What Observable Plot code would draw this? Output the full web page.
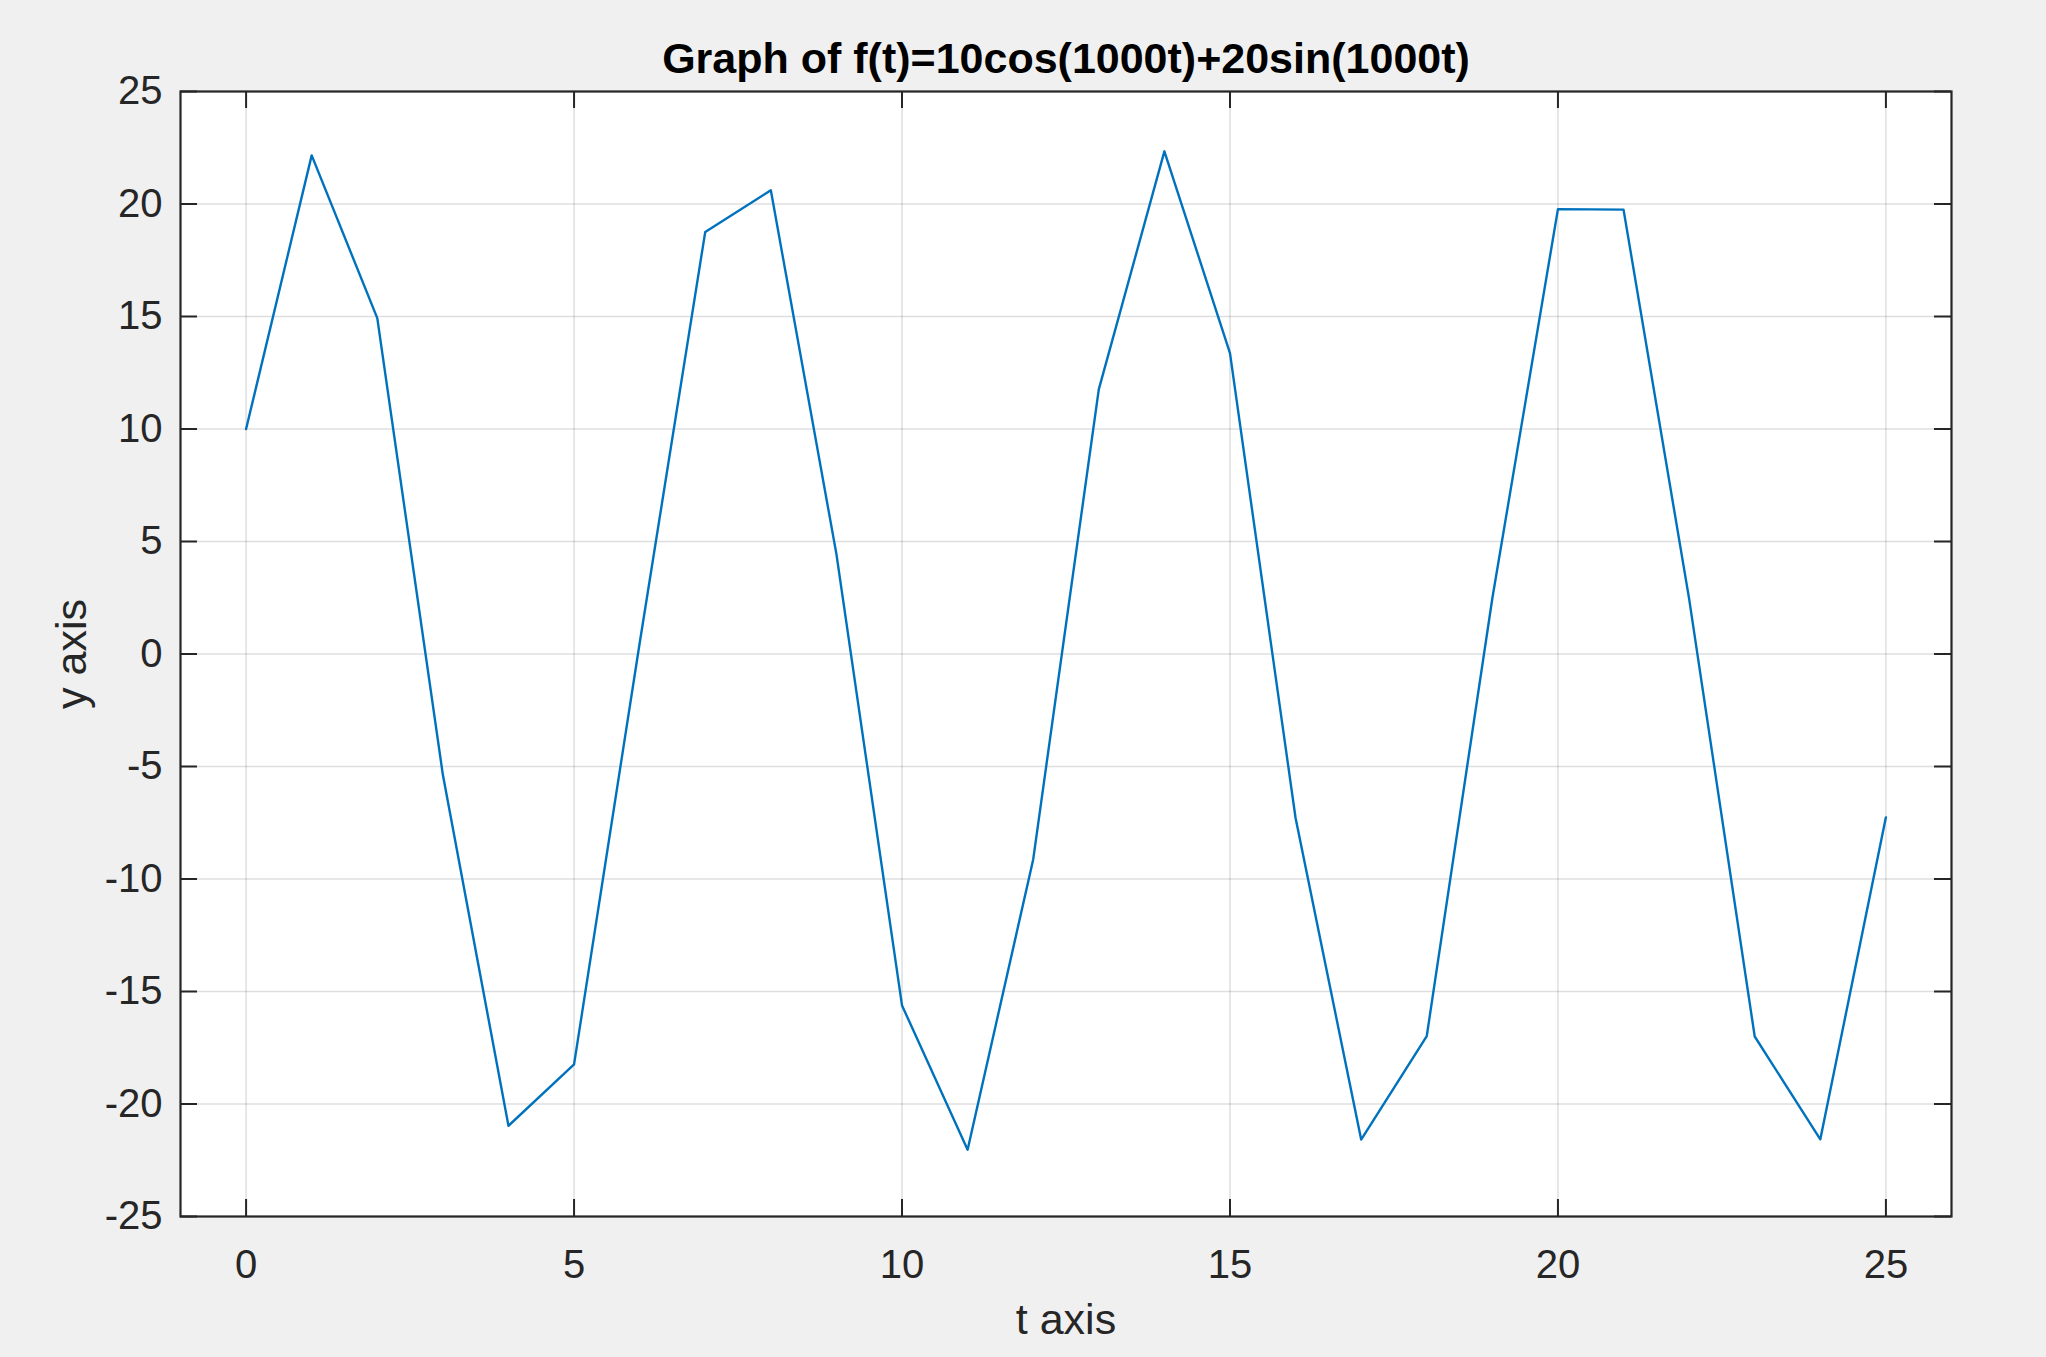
<!DOCTYPE html>
<html>
<head>
<meta charset="utf-8">
<script src="https://cdn.jsdelivr.net/npm/d3@7"></script>
<script src="https://cdn.jsdelivr.net/npm/@observablehq/plot@0.6"></script>
<style>
  html, body { margin: 0; padding: 0; background: #f0f0f0; }
  #chart svg { display: block; }
</style>
</head>
<body>
<div id="chart"></div>
<script>
const tValues = [0, 1, 2, 3, 4, 5, 6, 7, 8, 9, 10, 11, 12, 13, 14, 15, 16, 17, 18, 19, 20, 21, 22, 23, 24, 25];
const fValues = [10.0, 22.16, 14.93, -5.37, -20.97, -18.24, 0.48, 18.76, 20.61, 4.44, -15.62, -22.03, -9.13, 11.76, 22.34, 13.37, -7.29, -21.58, -16.98, 2.48, 19.77, 19.75, 2.45, -17.0, -21.57, -7.26];
const xTicks = [0, 5, 10, 15, 20, 25];
const yTicks = [-25, -20, -15, -10, -5, 0, 5, 10, 15, 20, 25];
const titleText = "Graph of f(t)=10cos(1000t)+20sin(1000t)";
const xLabel = "t axis";
const yLabel = "y axis";

const data = tValues.map((t, i) => ({t, f: fValues[i]}));

const W = 2046, H = 1357;
const mL = 180, mR = 95, mT = 91, mB = 141;
const plotW = W - mL - mR, plotH = H - mT - mB;
const tick = 17;
const ink = "#262626";
const font = "'Liberation Sans', Arial, Helvetica, sans-serif";

const chart = Plot.plot({
  width: W,
  height: H,
  marginLeft: mL,
  marginRight: mR,
  marginTop: mT,
  marginBottom: mB,
  style: {background: "#f0f0f0", color: ink, fontFamily: font, fontSize: "40px", overflow: "visible"},
  x: {domain: [-1, 26], ticks: xTicks},
  y: {domain: [-25, 25], ticks: yTicks},
  marks: [
    Plot.frame({fill: "white"}),
    Plot.gridX(xTicks, {stroke: "#000", strokeOpacity: 0.13, strokeWidth: 1.5}),
    Plot.gridY(yTicks, {stroke: "#000", strokeOpacity: 0.13, strokeWidth: 1.5}),
    Plot.line(data, {x: "t", y: "f", stroke: "#0072BD", strokeWidth: 2.4}),
    Plot.tickX(xTicks, {x: d => d, insetTop: plotH - tick, stroke: ink, strokeWidth: 2}),
    Plot.tickX(xTicks, {x: d => d, insetBottom: plotH - tick, stroke: ink, strokeWidth: 2}),
    Plot.tickY(yTicks, {y: d => d, insetRight: plotW - tick, stroke: ink, strokeWidth: 2}),
    Plot.tickY(yTicks, {y: d => d, insetLeft: plotW - tick, stroke: ink, strokeWidth: 2}),
    Plot.frame({stroke: ink, strokeWidth: 2.2}),
    Plot.axisX(xTicks, {anchor: "bottom", tickSize: 0, tickPadding: 33, tickFormat: d => String(d), label: null, fontSize: 40, fill: ink}),
    Plot.axisY(yTicks, {anchor: "left", tickSize: 0, tickPadding: 18, tickFormat: d => String(d), label: null, fontSize: 40, fill: ink}),
    Plot.text([titleText], {frameAnchor: "top", dy: -32, lineAnchor: "middle", fontWeight: "bold", fontSize: 43, fill: "#000"}),
    Plot.text([xLabel], {frameAnchor: "bottom", dy: 104, lineAnchor: "middle", fontSize: 43, fill: ink}),
    Plot.text([yLabel], {frameAnchor: "left", dx: -108, rotate: -90, textAnchor: "middle", lineAnchor: "middle", fontSize: 43, fill: ink})
  ]
});
document.getElementById("chart").appendChild(chart);
</script>
</body>
</html>
